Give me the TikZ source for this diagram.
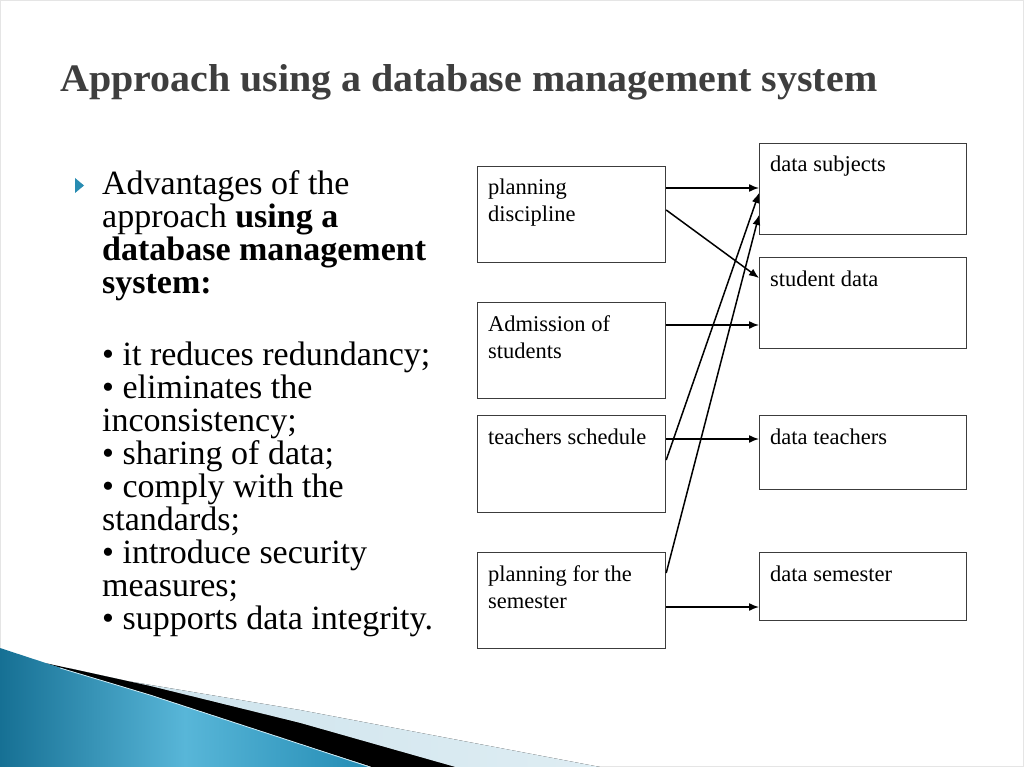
\documentclass[tikz,border=0pt]{standalone}
\usepackage{fontspec}
\usepackage{graphicx}
\setmainfont{Liberation Serif}
\usetikzlibrary{arrows.meta}
\definecolor{titlegray}{RGB}{62,62,62}
\definecolor{boxline}{RGB}{60,60,60}
\definecolor{bullteal}{RGB}{40,140,178}
\definecolor{tealdark}{RGB}{22,112,148}
\definecolor{teallight}{RGB}{88,182,216}
\definecolor{tealmid}{RGB}{36,140,180}
\definecolor{palea}{RGB}{204,226,236}
\definecolor{paleb}{RGB}{222,237,243}
\begin{document}
\begin{tikzpicture}[x=1pt,y=-1pt,
  boxnode/.style={draw=boxline, line width=1.2pt, anchor=north west, inner sep=0pt},
  lbox/.style={boxnode, minimum width=188pt},
  rbox/.style={boxnode, minimum width=207pt},
  boxtext/.style={anchor=base west, inner sep=0pt, font=\fontsize{22.5}{27}\selectfont},
  bodytext/.style={anchor=base west, inner sep=0pt, font=\fontsize{34}{33}\selectfont},
  conn/.style={line width=1.5pt, -{Latex[length=10pt,width=8pt]}}]
\useasboundingbox (0,0) rectangle (1024,767);
\fill[white] (0,0) rectangle (1024,767);
\draw[black!10, line width=1pt] (0.5,0.5) rectangle (1023.5,766.5);

% bottom-left decoration
\fill[left color=palea, right color=paleb]
  (68,668) -- (103,677) -- (300,710) -- (600,767) -- (455,767) -- (300,723) -- (150,686) -- cycle;
\fill[black]
  (45,663) -- (150,686) -- (300,723) -- (455,767) -- (372,767) -- (300,744) -- (150,695) -- (67,670) -- cycle;
\shade[left color=tealdark, right color=tealmid, middle color=teallight]
  (0,648) -- (67,670) -- (150,695) -- (300,744) -- (370,767) -- (0,767) -- cycle;
\draw[white!70!teallight, line width=0.8pt] (60,668) -- (150,695) -- (300,744) -- (370,767);

% title
\node[anchor=base west, inner sep=0pt, text=titlegray] (title) at (60,92)
  {\resizebox{817pt}{27pt}{\bfseries Approach using a database management system}};

% bullet marker
\fill[bullteal] (75,178) -- (84,185.5) -- (75,193) -- cycle;

% left text
\node[bodytext] (adv) at (102,195) {\parbox[t]{380pt}{\raggedright
  Advantages of the\\approach \textbf{using a}\\\textbf{database management}\\\textbf{system:}}};
\node[bodytext] (list) at (102,365) {\parbox[t]{380pt}{\raggedright
  • it reduces redundancy;\\• eliminates the\\inconsistency;\\• sharing of data;\\• comply with the\\standards;\\• introduce security\\measures;\\• supports data integrity.}};

% boxes
\node[lbox, minimum height=96pt] (pd) at (477,166) {};
\node[lbox, minimum height=96pt] (ad) at (477,302) {};
\node[lbox, minimum height=97pt] (ts) at (477,415) {};
\node[lbox, minimum height=96pt] (ps) at (477,552) {};
\node[rbox, minimum height=91pt] (ds) at (759,143) {};
\node[rbox, minimum height=91pt] (sd) at (759,257) {};
\node[rbox, minimum height=74pt] (dt) at (759,415) {};
\node[rbox, minimum height=68pt] (dse) at (759,552) {};

\node[boxtext] (pdt) at ([xshift=11pt,yshift=-29pt]pd.north west) {\parbox[t]{180pt}{planning\\discipline}};
\node[boxtext] (adt) at ([xshift=11pt,yshift=-29pt]ad.north west) {\parbox[t]{180pt}{Admission of\\students}};
\node[boxtext] (tst) at ([xshift=11pt,yshift=-29pt]ts.north west) {\parbox[t]{180pt}{teachers schedule}};
\node[boxtext] (pst) at ([xshift=11pt,yshift=-29pt]ps.north west) {\parbox[t]{180pt}{planning for the\\semester}};
\node[boxtext] (dst) at ([xshift=11pt,yshift=-29pt]ds.north west) {data subjects};
\node[boxtext] (sdt) at ([xshift=11pt,yshift=-29pt]sd.north west) {student data};
\node[boxtext] (dtt) at ([xshift=11pt,yshift=-29pt]dt.north west) {data teachers};
\node[boxtext] (dset) at ([xshift=11pt,yshift=-29pt]dse.north west) {data semester};

% connectors
\draw[conn] ([yshift=-22pt]pd.north east) -- ([yshift=-45pt]ds.north west);
\draw[conn] ([yshift=-44pt]pd.north east) -- ([yshift=-21pt]sd.north west);
\draw[conn] ([yshift=-23pt]ad.north east) -- ([yshift=-68pt]sd.north west);
\draw[conn] ([yshift=-45pt]ts.north east) -- ([yshift=-50pt]ds.north west);
\draw[conn] ([yshift=-24pt]ts.north east) -- ([yshift=-24pt]dt.north west);
\draw[conn] ([yshift=-21pt]ps.north east) -- ([yshift=-72pt]ds.north west);
\draw[conn] ([yshift=-55pt]ps.north east) -- ([yshift=-55pt]dse.north west);
\end{tikzpicture}
\end{document}
